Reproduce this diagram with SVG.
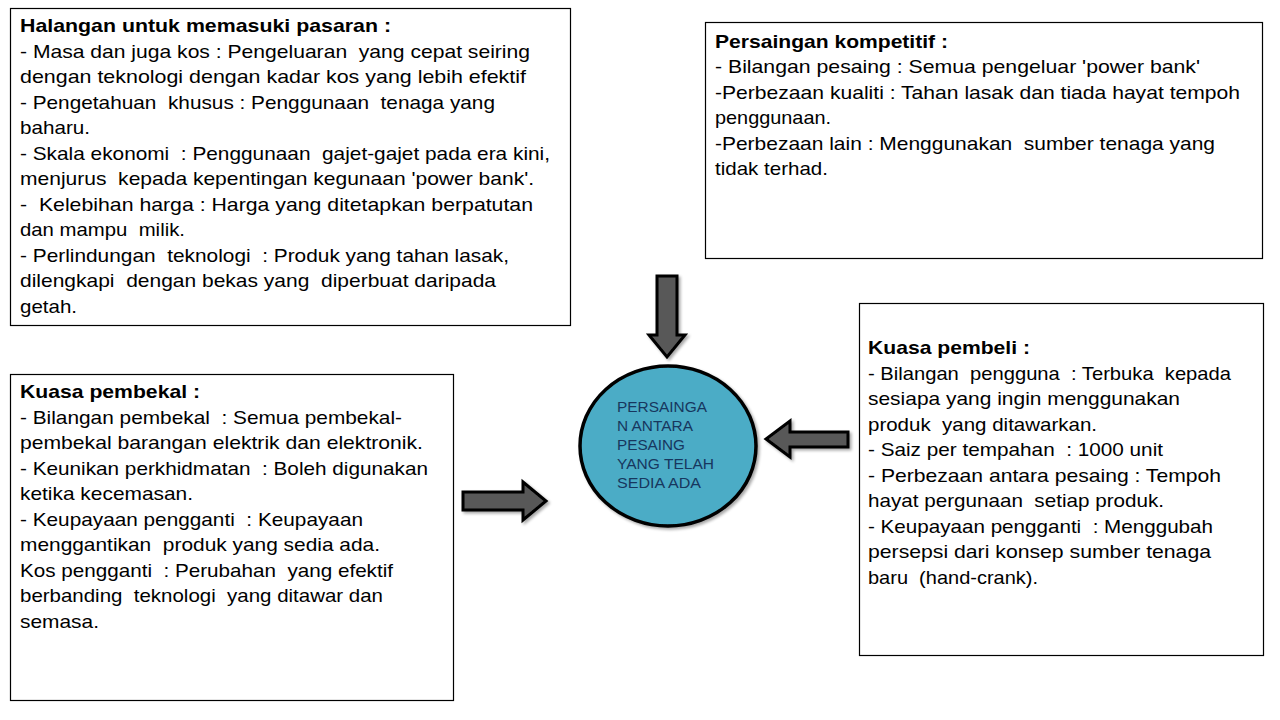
<svg xmlns="http://www.w3.org/2000/svg" width="1280" height="720" viewBox="0 0 1280 720">
<style>
.box{fill:#fff;stroke:#000;stroke-width:1.2}
.t{font-family:"Liberation Sans",Arial,sans-serif;font-size:19px;fill:#000;white-space:pre}
.b{font-weight:bold}
.arr{fill:#595959;stroke:#000;stroke-width:3;stroke-linejoin:miter;filter:url(#sh)}
.ct{font-family:"Liberation Sans",Arial,sans-serif;font-size:15px;fill:#17375E;white-space:pre}
</style>
<defs>
<filter id="sh" x="-20%" y="-20%" width="150%" height="150%">
<feGaussianBlur in="SourceAlpha" stdDeviation="1.5"/>
<feOffset dx="2" dy="2" result="o"/>
<feComponentTransfer><feFuncA type="linear" slope="0.35"/></feComponentTransfer>
<feMerge><feMergeNode/><feMergeNode in="SourceGraphic"/></feMerge>
</filter>
</defs>
<rect width="1280" height="720" fill="#fff"/>
<g id="halangan">
<rect class="box" x="10.5" y="8.5" width="560" height="317"/>
<text class="t" lengthAdjust="spacingAndGlyphs" x="20" y="32" font-weight="bold" textLength="371">Halangan untuk memasuki pasaran :</text>
<text class="t" lengthAdjust="spacingAndGlyphs" x="20" y="57.5" textLength="510">- Masa dan juga kos : Pengeluaran  yang cepat seiring</text>
<text class="t" lengthAdjust="spacingAndGlyphs" x="20" y="83" textLength="506">dengan teknologi dengan kadar kos yang lebih efektif</text>
<text class="t" lengthAdjust="spacingAndGlyphs" x="20" y="108.5" textLength="475">- Pengetahuan  khusus : Penggunaan  tenaga yang</text>
<text class="t" lengthAdjust="spacingAndGlyphs" x="20" y="134" textLength="70">baharu.</text>
<text class="t" lengthAdjust="spacingAndGlyphs" x="20" y="159.5" textLength="530">- Skala ekonomi  : Penggunaan  gajet-gajet pada era kini,</text>
<text class="t" lengthAdjust="spacingAndGlyphs" x="20" y="185" textLength="514">menjurus  kepada kepentingan kegunaan 'power bank'.</text>
<text class="t" lengthAdjust="spacingAndGlyphs" x="20" y="210.5" textLength="513">-  Kelebihan harga : Harga yang ditetapkan berpatutan</text>
<text class="t" lengthAdjust="spacingAndGlyphs" x="20" y="236" textLength="165">dan mampu  milik.</text>
<text class="t" lengthAdjust="spacingAndGlyphs" x="20" y="261.5" textLength="489">- Perlindungan  teknologi  : Produk yang tahan lasak,</text>
<text class="t" lengthAdjust="spacingAndGlyphs" x="20" y="287" textLength="476">dilengkapi  dengan bekas yang  diperbuat daripada</text>
<text class="t" lengthAdjust="spacingAndGlyphs" x="20" y="312.5" textLength="57">getah.</text>
</g>
<g id="persaingan-kompetitif">
<rect class="box" x="705.5" y="22.5" width="557" height="236"/>
<text class="t" lengthAdjust="spacingAndGlyphs" x="715" y="47.5" font-weight="bold" textLength="233">Persaingan kompetitif :</text>
<text class="t" lengthAdjust="spacingAndGlyphs" x="715" y="73" textLength="485">- Bilangan pesaing : Semua pengeluar 'power bank'</text>
<text class="t" lengthAdjust="spacingAndGlyphs" x="715" y="98.5" textLength="525">-Perbezaan kualiti : Tahan lasak dan tiada hayat tempoh</text>
<text class="t" lengthAdjust="spacingAndGlyphs" x="715" y="124" textLength="116">penggunaan.</text>
<text class="t" lengthAdjust="spacingAndGlyphs" x="715" y="149.5" textLength="500">-Perbezaan lain : Menggunakan  sumber tenaga yang</text>
<text class="t" lengthAdjust="spacingAndGlyphs" x="715" y="175" textLength="113">tidak terhad.</text>
</g>
<g id="kuasa-pembekal">
<rect class="box" x="10.5" y="374.5" width="443" height="326"/>
<text class="t" lengthAdjust="spacingAndGlyphs" x="20" y="398" font-weight="bold" textLength="180">Kuasa pembekal :</text>
<text class="t" lengthAdjust="spacingAndGlyphs" x="20" y="423.5" textLength="382">- Bilangan pembekal  : Semua pembekal-</text>
<text class="t" lengthAdjust="spacingAndGlyphs" x="20" y="449" textLength="403">pembekal barangan elektrik dan elektronik.</text>
<text class="t" lengthAdjust="spacingAndGlyphs" x="20" y="474.5" textLength="408">- Keunikan perkhidmatan  : Boleh digunakan</text>
<text class="t" lengthAdjust="spacingAndGlyphs" x="20" y="500" textLength="173">ketika kecemasan.</text>
<text class="t" lengthAdjust="spacingAndGlyphs" x="20" y="525.5" textLength="343">- Keupayaan pengganti  : Keupayaan</text>
<text class="t" lengthAdjust="spacingAndGlyphs" x="20" y="551" textLength="360">menggantikan  produk yang sedia ada.</text>
<text class="t" lengthAdjust="spacingAndGlyphs" x="20" y="576.5" textLength="373">Kos pengganti  : Perubahan  yang efektif</text>
<text class="t" lengthAdjust="spacingAndGlyphs" x="20" y="602" textLength="363">berbanding  teknologi  yang ditawar dan</text>
<text class="t" lengthAdjust="spacingAndGlyphs" x="20" y="627.5" textLength="79">semasa.</text>
</g>
<g id="kuasa-pembeli">
<rect class="box" x="859.5" y="303.5" width="404" height="352"/>
<text class="t" lengthAdjust="spacingAndGlyphs" x="868" y="354" font-weight="bold" textLength="162">Kuasa pembeli :</text>
<text class="t" lengthAdjust="spacingAndGlyphs" x="868" y="379.5" textLength="363">- Bilangan  pengguna  : Terbuka  kepada</text>
<text class="t" lengthAdjust="spacingAndGlyphs" x="868" y="405" textLength="312">sesiapa yang ingin menggunakan</text>
<text class="t" lengthAdjust="spacingAndGlyphs" x="868" y="430.5" textLength="229">produk  yang ditawarkan.</text>
<text class="t" lengthAdjust="spacingAndGlyphs" x="868" y="456" textLength="295">- Saiz per tempahan  : 1000 unit</text>
<text class="t" lengthAdjust="spacingAndGlyphs" x="868" y="481.5" textLength="353">- Perbezaan antara pesaing : Tempoh</text>
<text class="t" lengthAdjust="spacingAndGlyphs" x="868" y="507" textLength="296">hayat pergunaan  setiap produk.</text>
<text class="t" lengthAdjust="spacingAndGlyphs" x="868" y="532.5" textLength="345">- Keupayaan pengganti  : Menggubah</text>
<text class="t" lengthAdjust="spacingAndGlyphs" x="868" y="558" textLength="343">persepsi dari konsep sumber tenaga</text>
<text class="t" lengthAdjust="spacingAndGlyphs" x="868" y="583.5" textLength="170">baru  (hand-crank).</text>
</g>
<g id="persaingan">
<ellipse cx="668" cy="446" rx="88" ry="80" fill="#4BACC6" stroke="#000" stroke-width="3.5" filter="url(#sh)"/>
<text class="ct" lengthAdjust="spacingAndGlyphs" x="617" y="412" textLength="90">PERSAINGA</text>
<text class="ct" lengthAdjust="spacingAndGlyphs" x="617" y="431" textLength="76">N ANTARA</text>
<text class="ct" lengthAdjust="spacingAndGlyphs" x="617" y="450" textLength="68">PESAING</text>
<text class="ct" lengthAdjust="spacingAndGlyphs" x="617" y="469" textLength="97">YANG TELAH</text>
<text class="ct" lengthAdjust="spacingAndGlyphs" x="617" y="488" textLength="84">SEDIA ADA</text>
</g>
<g id="connectors">
<polygon class="arr" points="657,276 677,276 677,335 685,335 667,357 649,335 657,335"/>
<polygon class="arr" points="463,492 523,492 523,482 546,501 523,520 523,510 463,510"/>
<polygon class="arr" points="848,432 790,432 790,421 766,439 790,457 790,447 848,447"/>
</g>
</svg>
